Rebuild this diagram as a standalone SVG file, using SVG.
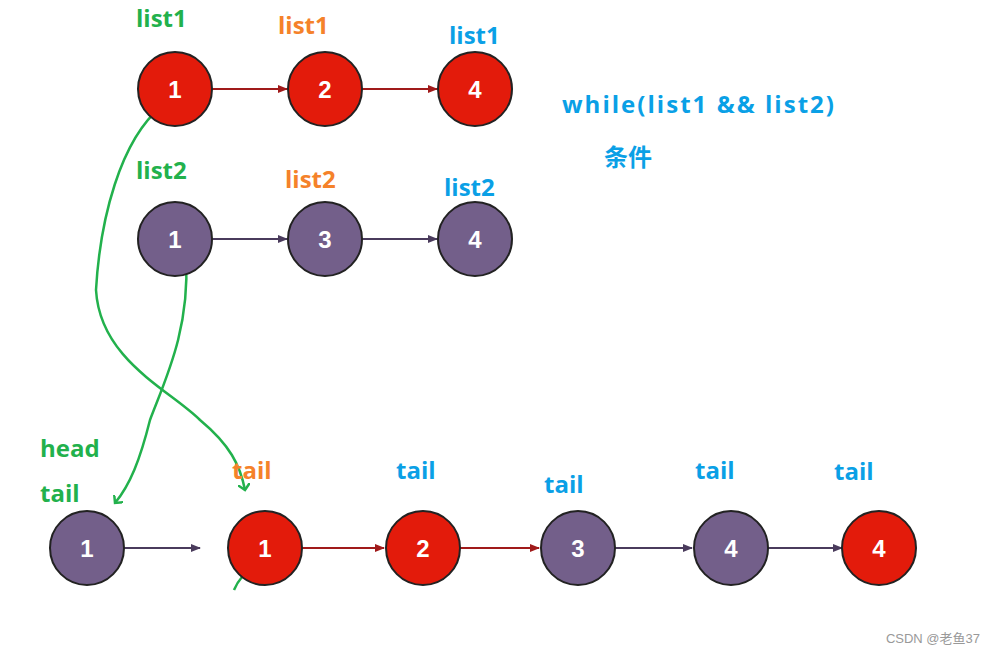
<svg xmlns="http://www.w3.org/2000/svg" width="996" height="655" viewBox="0 0 996 655">
<style>
.r{fill:#e31b0b;stroke:#222;stroke-width:2}
.p{fill:#735f8a;stroke:#222;stroke-width:2}
.n{fill:#fff;font:bold 24px "Liberation Sans",Arial,sans-serif;text-anchor:middle}
.l{font:bold 24px "Open Sans","Liberation Sans","Noto Sans CJK SC",sans-serif}
.g{fill:#22b14c}.o{fill:#f5822a}.b{fill:#0aa0e6}
.ar{stroke:#a01a1a;stroke-width:2;fill:none}
.ap{stroke:#4a3b5c;stroke-width:2;fill:none}
.gc{stroke:#22b14c;stroke-width:2.5;fill:none}
</style>
<defs>
<marker id="mr" markerWidth="10" markerHeight="10" refX="9" refY="5" orient="auto" markerUnits="userSpaceOnUse"><path d="M0,1 L10,5 L0,9z" fill="#a01a1a"/></marker>
<marker id="mp" markerWidth="10" markerHeight="10" refX="9" refY="5" orient="auto" markerUnits="userSpaceOnUse"><path d="M0,1 L10,5 L0,9z" fill="#4a3b5c"/></marker>
<marker id="mg" markerWidth="12" markerHeight="12" refX="6" refY="6" orient="auto" markerUnits="userSpaceOnUse"><path d="M0,0 L6,6 L0,12" fill="none" stroke="#22b14c" stroke-width="2.5"/></marker>
</defs>
<rect width="996" height="655" fill="#fff"/>
<g id="connectors">
<line class="ar" x1="212" y1="89" x2="287" y2="89" marker-end="url(#mr)"/>
<line class="ar" x1="362" y1="89" x2="437" y2="89" marker-end="url(#mr)"/>
<line class="ap" x1="212" y1="239" x2="287" y2="239" marker-end="url(#mp)"/>
<line class="ap" x1="362" y1="239" x2="437" y2="239" marker-end="url(#mp)"/>
<line class="ap" x1="124" y1="548" x2="200" y2="548" marker-end="url(#mp)"/>
<line class="ar" x1="302" y1="548" x2="384" y2="548" marker-end="url(#mr)"/>
<line class="ar" x1="460" y1="548" x2="539" y2="548" marker-end="url(#mr)"/>
<line class="ap" x1="615" y1="548" x2="692" y2="548" marker-end="url(#mp)"/>
<line class="ap" x1="768" y1="548" x2="842" y2="548" marker-end="url(#mp)"/>
<path class="gc" d="M162,106 C120,140 100,220 96,290 C100,360 170,390 200,420 C230,445 240,465 245,490" marker-end="url(#mg)"/>
<path class="gc" d="M186,258 C190,330 165,380 150,420 C140,460 130,485 115,503" marker-end="url(#mg)"/>
<path class="gc" d="M257,565 C245,572 238,580 234,590"/>
</g>
<g id="n1"><circle class="r" cx="175" cy="89" r="37"/><text class="n" x="175" y="98">1</text></g>
<g id="n2"><circle class="r" cx="325" cy="89" r="37"/><text class="n" x="325" y="98">2</text></g>
<g id="n3"><circle class="r" cx="475" cy="89" r="37"/><text class="n" x="475" y="98">4</text></g>
<g id="n4"><circle class="p" cx="175" cy="239" r="37"/><text class="n" x="175" y="248">1</text></g>
<g id="n5"><circle class="p" cx="325" cy="239" r="37"/><text class="n" x="325" y="248">3</text></g>
<g id="n6"><circle class="p" cx="475" cy="239" r="37"/><text class="n" x="475" y="248">4</text></g>
<g id="n7"><circle class="p" cx="87" cy="548" r="37"/><text class="n" x="87" y="557">1</text></g>
<g id="n8"><circle class="r" cx="265" cy="548" r="37"/><text class="n" x="265" y="557">1</text></g>
<g id="n9"><circle class="r" cx="423" cy="548" r="37"/><text class="n" x="423" y="557">2</text></g>
<g id="n10"><circle class="p" cx="578" cy="548" r="37"/><text class="n" x="578" y="557">3</text></g>
<g id="n11"><circle class="p" cx="731" cy="548" r="37"/><text class="n" x="731" y="557">4</text></g>
<g id="n12"><circle class="r" cx="879" cy="548" r="37"/><text class="n" x="879" y="557">4</text></g>
<g id="labels">
<text class="l g" x="136" y="27">list1</text>
<text class="l o" x="278" y="34">list1</text>
<text class="l b" x="449" y="44">list1</text>
<text class="l g" x="136" y="179">list2</text>
<text class="l o" x="285" y="188">list2</text>
<text class="l b" x="444" y="196">list2</text>
<text class="l b" x="562" y="113" textLength="272" lengthAdjust="spacing">while(list1 &amp;&amp; list2)</text>
<text class="l b" x="604" y="166">条件</text>
<text class="l g" x="40" y="457">head</text>
<text class="l g" x="40" y="502">tail</text>
<text class="l o" x="232" y="479">tail</text>
<text class="l b" x="396" y="479">tail</text>
<text class="l b" x="544" y="493">tail</text>
<text class="l b" x="695" y="479">tail</text>
<text class="l b" x="834" y="480">tail</text>
<text x="980" y="643" text-anchor="end" fill="#999" font-size="13" font-family="'Liberation Sans','Noto Sans CJK SC',sans-serif">CSDN @老鱼37</text>
</g>
</svg>
